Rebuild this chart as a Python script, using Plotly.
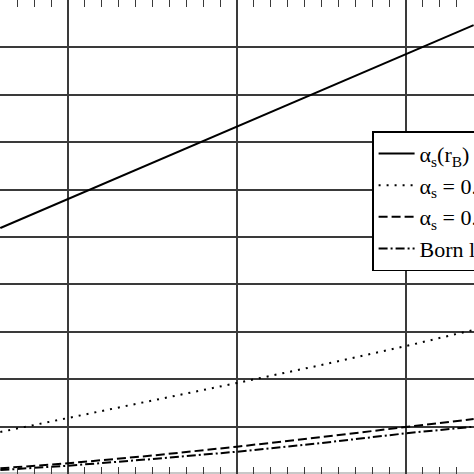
import plotly.graph_objects as go

# x positions (major grid at 1, 2, 3)
x_vals = [0.6, 1.0, 1.5, 2.0, 2.5, 3.0, 3.4]

running = [5.19, 5.80, 6.57, 7.33, 8.09, 8.86, 9.47]
fixed_a = [0.886, 1.181, 1.540, 1.920, 2.300, 2.700, 3.040]
fixed_b = [0.120, 0.226, 0.390, 0.576, 0.780, 0.998, 1.160]
born = [0.084, 0.175, 0.316, 0.470, 0.654, 0.859, 0.998]

names = [
    "α<sub>s</sub>(r<sub>B</sub>)",
    "α<sub>s</sub> = 0.2",
    "α<sub>s</sub> = 0.1",
    "Born level",
]
series = [running, fixed_a, fixed_b, born]
dashes = ["solid", "2px,6px", "9px,4px", "9px,3px,2px,3px"]

FONT = "Liberation Serif, Times New Roman, serif"

TICKS = dict(
    dtick=1,
    tick0=0,
    showticklabels=False,
    ticks="inside",
    ticklen=7,
    tickwidth=1.2,
    tickcolor="#3a3a3a",
    minor=dict(dtick=0.1, ticks="inside", ticklen=7, tickwidth=1.2,
               tickcolor="#3a3a3a", showgrid=False),
    zeroline=False,
)

fig = go.Figure()
for name, ys, dash in zip(names, series, dashes):
    fig.add_trace(
        go.Scatter(
            x=x_vals,
            y=ys,
            name=name,
            mode="lines",
            line=dict(color="black", width=2, dash=dash),
        )
    )

# hidden trace that carries the top tick axis
fig.add_trace(
    go.Scatter(x=[x_vals[0]], y=[0], xaxis="x2", showlegend=False,
               mode="markers", marker=dict(opacity=0), hoverinfo="skip")
)

fig.update_layout(
    width=474,
    height=480,
    margin=dict(l=0, r=0, t=6, b=0, autoexpand=False),
    plot_bgcolor="white",
    paper_bgcolor="white",
    font=dict(family=FONT, size=22, color="black"),
    showlegend=True,
    xaxis=dict(
        range=[0.598, 3.402],
        showgrid=True,
        gridcolor="#3a3a3a",
        gridwidth=1.5,
        showline=False,
        **TICKS,
    ),
    xaxis2=dict(
        overlaying="x",
        side="top",
        anchor="y",
        range=[0.598, 3.402],
        showgrid=False,
        showline=False,
        **TICKS,
    ),
    yaxis=dict(
        range=[0, 10],
        dtick=1,
        showgrid=True,
        gridcolor="#3a3a3a",
        gridwidth=1.5,
        zeroline=False,
        showticklabels=False,
        ticks="",
        showline=False,
    ),
    legend=dict(
        x=0.785,
        y=0.723,
        xanchor="left",
        yanchor="top",
        itemwidth=36,
        bgcolor="white",
        bordercolor="black",
        borderwidth=1.5,
        font=dict(family=FONT, size=22, color="black"),
    ),
)

# light grey frame edge along the bottom
fig.add_shape(type="line", xref="paper", yref="paper", x0=0, x1=1, y0=0, y1=0,
              line=dict(color="#c8c8c8", width=4), layer="below")

# drop the page margin and hide the 6px top strip so the plot area fills the window
fig.write_html(
    "out.html",
    config={"displayModeBar": False},
    post_script="document.body.style.margin = '-6px 0 0 0';",
)
